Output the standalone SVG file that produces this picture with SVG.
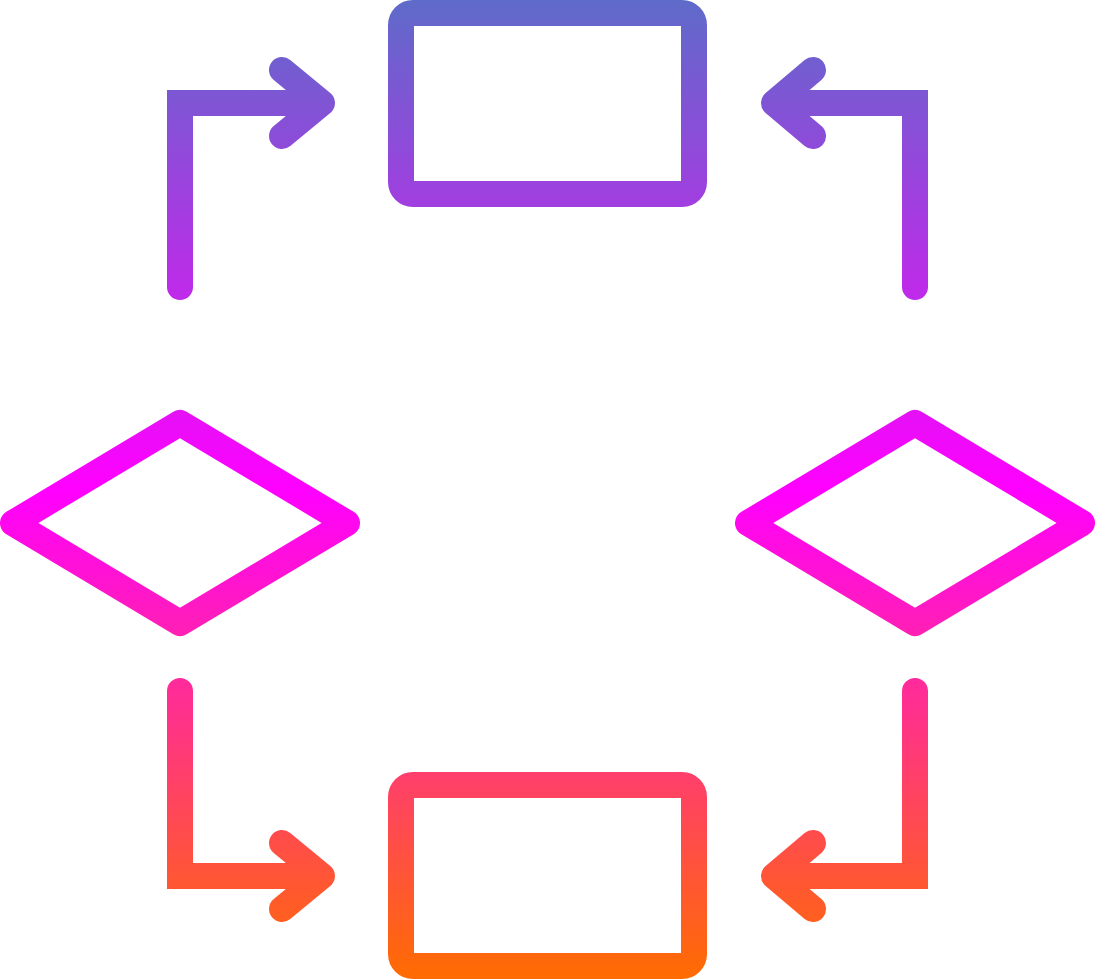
<svg xmlns="http://www.w3.org/2000/svg" width="1095" height="980" viewBox="0 0 1095 980">
  <defs>
    <linearGradient id="g" gradientUnits="userSpaceOnUse" x1="0" y1="0" x2="0" y2="980">
      <stop offset="0" stop-color="#5e6bc9"/>
      <stop offset="0.5" stop-color="#ff00ff"/>
      <stop offset="1" stop-color="#ff6c00"/>
    </linearGradient>
  </defs>
  <style>
    .s { fill: none; stroke: url(#g); stroke-width: 26; stroke-linecap: round; stroke-linejoin: round; }
    .b { stroke-linejoin: miter; }
  </style>
  <rect width="1095" height="980" fill="#ffffff"/>
  <g id="top-box"><rect class="s b" x="401" y="13" width="293" height="181" rx="12"/></g>
  <g id="bottom-box"><rect class="s b" x="401" y="785" width="293" height="181" rx="12"/></g>
  <g id="left-diamond"><path class="s" d="M180 423 L347 523 L180 623 L13 523 Z"/></g>
  <g id="right-diamond"><path class="s" d="M915 423 L1082 523 L915 623 L748 523 Z"/></g>
  <g id="connectors">
    <path class="s b" d="M180 287 V103 H320"/>
    <path class="s" d="M282 70 L322 103 L282 136"/>
    <path class="s b" d="M915 287 V103 H776"/>
    <path class="s" d="M813 70 L774 103 L813 136"/>
    <path class="s b" d="M180 691 V876 H320"/>
    <path class="s" d="M282 843 L322 876 L282 909"/>
    <path class="s b" d="M915 691 V876 H776"/>
    <path class="s" d="M813 843 L774 876 L813 909"/>
  </g>
</svg>
